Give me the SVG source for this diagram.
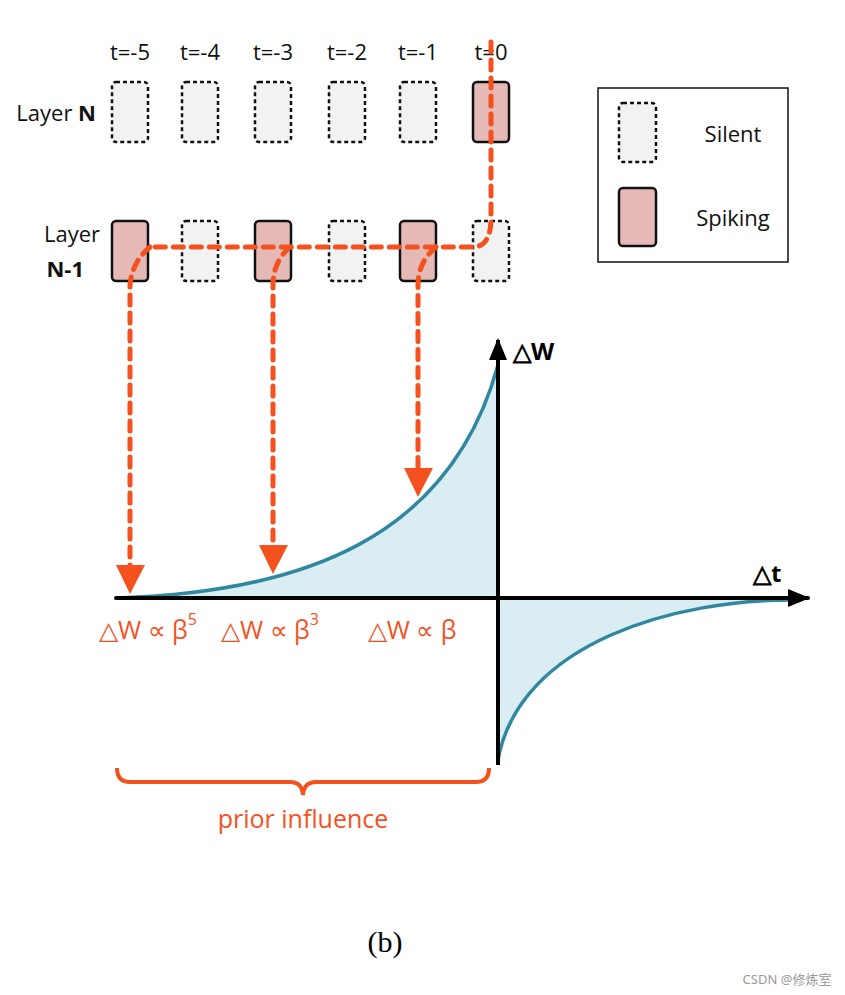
<svg xmlns="http://www.w3.org/2000/svg" width="845" height="995" viewBox="0 0 845 995">
<style>
.s{fill:#f2f2f2;stroke:#111;stroke-width:2.5;stroke-dasharray:4 3}
.p{fill:#e4b9b6;stroke:#111;stroke-width:2.5}
.t{font-family:"Open Sans","Liberation Sans",sans-serif;font-size:22px;fill:#111}
.o{font-family:"Open Sans","Liberation Sans",sans-serif;font-size:25px;fill:#f4511e}
.d{fill:none;stroke:#f4511e;stroke-width:5;stroke-dasharray:10 8;stroke-linecap:round}
</style>
<defs>
<marker id="oa" markerWidth="8" markerHeight="8" refX="4" refY="6" orient="auto" markerUnits="userSpaceOnUse" viewBox="0 0 8 8"><path d="M0,0 L4,6 L8,0 Z" fill="#f4511e"/></marker>
<marker id="ka" markerWidth="22" markerHeight="22" refX="20" refY="11" orient="auto" markerUnits="userSpaceOnUse"><path d="M0,2 L22,11 L0,20 Z" fill="#000"/></marker>
</defs>
<rect width="845" height="995" fill="#fff"/>
<g id="timelabels" class="t" text-anchor="middle">
<text x="130" y="60">t=-5</text><text x="200" y="60">t=-4</text><text x="273" y="60">t=-3</text><text x="347" y="60">t=-2</text><text x="418" y="60">t=-1</text><text x="491" y="60">t=0</text>
</g>
<g id="layerlabels" class="t" text-anchor="end">
<text x="96" y="121">Layer <tspan font-weight="bold">N</tspan></text>
<text x="100" y="242">Layer</text>
<text x="84" y="277" font-weight="bold">N-1</text>
</g>
<g id="layerN">
<rect class="s" x="112" y="82" width="36" height="60" rx="4"/>
<rect class="s" x="182" y="82" width="36" height="60" rx="4"/>
<rect class="s" x="255" y="82" width="36" height="60" rx="4"/>
<rect class="s" x="329" y="82" width="36" height="60" rx="4"/>
<rect class="s" x="400" y="82" width="36" height="60" rx="4"/>
<rect class="p" x="473" y="82" width="36" height="60" rx="4"/>
</g>
<g id="layerN1">
<rect class="p" x="112" y="221" width="36" height="60" rx="4"/>
<rect class="s" x="182" y="221" width="36" height="60" rx="4"/>
<rect class="p" x="255" y="221" width="36" height="60" rx="4"/>
<rect class="s" x="329" y="221" width="36" height="60" rx="4"/>
<rect class="p" x="400" y="221" width="36" height="60" rx="4"/>
<rect class="s" x="473" y="221" width="36" height="60" rx="4"/>
</g>
<g id="legend">
<rect x="598" y="88" width="190" height="174" fill="#fff" stroke="#111" stroke-width="1.5"/>
<rect class="s" x="619" y="103" width="37" height="59" rx="4"/>
<rect class="p" x="619" y="188" width="37" height="58" rx="4"/>
<text class="t" x="733" y="142" text-anchor="middle">Silent</text>
<text class="t" x="733" y="226" text-anchor="middle">Spiking</text>
</g>
<g id="curves">
<path d="M118,598 C300,592 450,540 498,365 L498,598 Z" fill="#daedf3"/>
<path d="M118,598 C300,592 450,540 498,365" fill="none" stroke="#2f87a0" stroke-width="3.5"/>
<path d="M498,760 C520,640 680,600 790,600 L498,600 Z" fill="#daedf3"/>
<path d="M498,760 C520,640 680,600 790,600" fill="none" stroke="#2f87a0" stroke-width="3.5"/>
</g>
<g id="axes">
<line x1="116" y1="598" x2="808" y2="598" stroke="#000" stroke-width="4" stroke-linecap="round" marker-end="url(#ka)"/>
<line x1="498" y1="765" x2="498" y2="340" stroke="#000" stroke-width="4" marker-end="url(#ka)"/>
<text x="513" y="360" font-family="Open Sans,Liberation Sans,sans-serif" font-size="24" font-weight="bold">△W</text>
<text x="753" y="582" font-family="Open Sans,Liberation Sans,sans-serif" font-size="24" font-weight="bold">△t</text>
</g>
<g id="connectors">
<path class="d" d="M491,42 L491,218 Q491,245 475,247 L150,247"/>
<path class="d" d="M150,247 Q132,262 130,285 L130,572"/>
<path class="d" d="M290,247 Q273,262 273,285 L273,555"/>
<path class="d" d="M436,247 Q418,262 418,285 L418,478"/>
<path d="M116,565 L145,565 L130,594 Z" fill="#f4511e"/>
<path d="M259,545 L288,545 L273,574 Z" fill="#f4511e"/>
<path d="M404,468 L433,468 L418,497 Z" fill="#f4511e"/>
</g>
<g id="labels" class="o" text-anchor="middle">
<text x="148" y="639">△W ∝ β<tspan font-size="16" dy="-14">5</tspan></text>
<text x="270" y="639">△W ∝ β<tspan font-size="16" dy="-14">3</tspan></text>
<text x="412" y="639">△W ∝ β</text>
</g>
<g id="brace">
<path d="M117,768 Q117,782 130,782 L290,782 Q302,782 303,795 Q304,782 316,782 L476,782 Q489,782 489,768" fill="none" stroke="#f4511e" stroke-width="4"/>
<text class="o" x="303" y="828" text-anchor="middle" font-size="24">prior influence</text>
</g>
<text x="385" y="952" font-family="Liberation Serif,serif" font-size="30" text-anchor="middle">(b)</text>
<text x="787" y="984" font-family="Noto Sans,Noto Sans CJK SC,sans-serif" font-size="13" fill="#999" text-anchor="middle">CSDN @修炼室</text>
</svg>
